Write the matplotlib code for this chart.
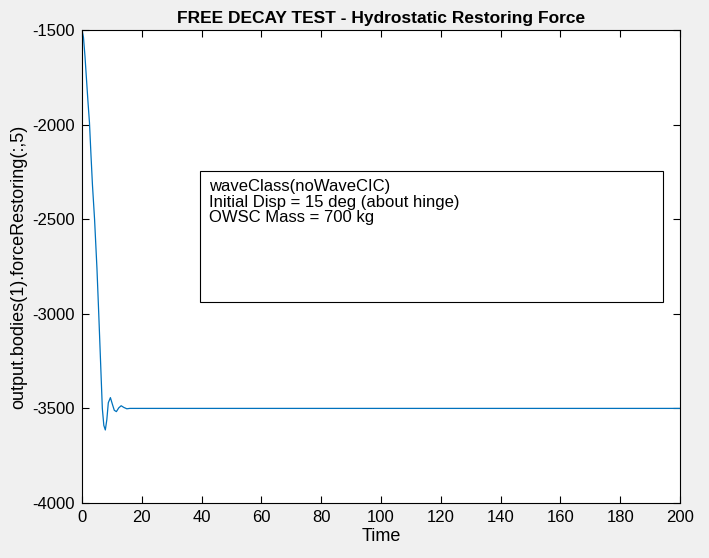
import numpy as np
import matplotlib.pyplot as plt

plt.rcParams['font.family'] = ['Liberation Sans', 'DejaVu Sans']
plt.rcParams['axes.unicode_minus'] = False

# values
time = [0, 0.5, 1.0, 1.5, 2.0, 2.5, 3.0, 3.5, 4.2, 5.0, 5.6, 6.2, 6.8, 7.3, 7.8, 8.3, 8.8, 9.5, 10.2, 10.8, 11.5, 12.3, 13.1, 14.0, 15.0, 16.0, 18.0, 20.0, 200.0]
force = [-1500, -1540, -1640, -1760, -1880, -1990, -2160, -2320, -2500, -2760, -3000, -3250, -3500, -3590, -3614, -3560, -3470, -3443, -3480, -3510, -3517, -3497, -3486, -3495, -3502, -3500, -3500, -3500, -3500]

fig = plt.figure(figsize=(7.09, 5.58), dpi=100, facecolor='#f0f0f0')
ax = fig.add_axes([82/709, 1-503/558, (680-82)/709, (503-30)/558])
ax.plot(time, force, color='#0072bd', linewidth=0.9)
ax.set_xlim(0, 200)
ax.set_ylim(-4000, -1500)
ax.set_xticks(np.arange(0, 201, 20))
ax.set_yticks(np.arange(-4000, -1499, 500))
ax.tick_params(direction='in', top=True, right=True, labelsize=12, length=5, pad=5)
ax.set_xlabel('Time', fontsize=13, labelpad=2)
ax.set_ylabel('output.bodies(1).forceRestoring(:,5)', fontsize=13, labelpad=4)
ax.set_title('FREE DECAY TEST - Hydrostatic Restoring Force', fontsize=12.5, fontweight='bold', pad=5)
ax.text(0.213, 0.685,
        'waveClass(noWaveCIC)\nInitial Disp = 15 deg (about hinge)\nOWSC Mass = 700 kg',
        transform=ax.transAxes, fontsize=12, va='top', ha='left', linespacing=1.05)
ax.add_patch(plt.Rectangle((0.198, 0.424), 0.773, 0.278, transform=ax.transAxes,
                           fill=False, edgecolor='black', linewidth=0.8))
fig.savefig('out.png', dpi=100, facecolor=fig.get_facecolor())
